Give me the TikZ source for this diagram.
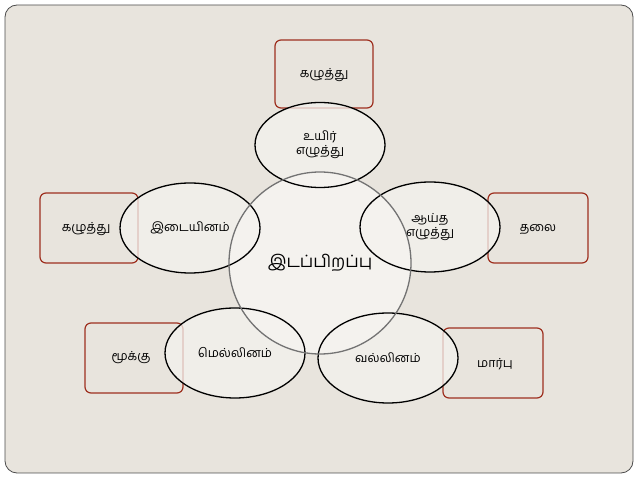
\documentclass[tikz,border=0pt]{standalone}
\usepackage{fontspec}
\newfontfamily\tamil[Script=Tamil]{Hind Madurai}
\usetikzlibrary{shapes.geometric}
\definecolor{bg}{HTML}{E8E4DD}
\definecolor{rb}{HTML}{9E2F1F}
\definecolor{fl}{HTML}{F4F2EE}
\begin{document}
\begin{tikzpicture}[x=1pt,y=-1pt,font=\tamil\fontsize{12.5}{14}\selectfont,
  box/.style={draw=rb,line width=1.2pt,rounded corners=6pt},
  ell/.style={draw=black,line width=1.3pt,fill=fl,fill opacity=0.75,text opacity=1,ellipse,align=center,inner sep=0pt}]
\useasboundingbox (0,0) rectangle (638,478);
\draw[fill=bg,draw=black!70,rounded corners=12pt,line width=0.8pt] (5,5) rectangle (633,473);
\draw[box] (275,40) rectangle (373,108); \node (t1) at (324,75) {கழுத்து};
\draw[box] (40,193) rectangle (138,263); \node (t2) at (86,229) {கழுத்து};
\draw[box] (488,193) rectangle (588,263); \node (t3) at (538,229) {தலை};
\draw[box] (85,323) rectangle (183,393); \node (t4) at (131,358) {மூக்கு};
\draw[box] (443,328) rectangle (543,398); \node (t5) at (495,364) {மார்பு};
\node[circle,fill=fl,minimum size=182pt] (c) at (320,263) {};
\node[ell,minimum width=130pt,minimum height=85pt] (e1) at (320,145) {உயிர்\\எழுத்து};
\node[ell,minimum width=140pt,minimum height=90pt] (e2) at (190,228) {இடையினம்};
\node[ell,minimum width=140pt,minimum height=90pt] (e3) at (430,227) {ஆய்த\\எழுத்து};
\node[ell,minimum width=140pt,minimum height=90pt] (e4) at (235,353) {மெல்லினம்};
\node[ell,minimum width=140pt,minimum height=90pt] (e5) at (388,358) {வல்லினம்};
\node[circle,draw=black!55,line width=1.3pt,minimum size=182pt,font=\tamil\fontsize{17}{20}\selectfont] (c2) at (320,263) {இடப்பிறப்பு};
\end{tikzpicture}
\end{document}
